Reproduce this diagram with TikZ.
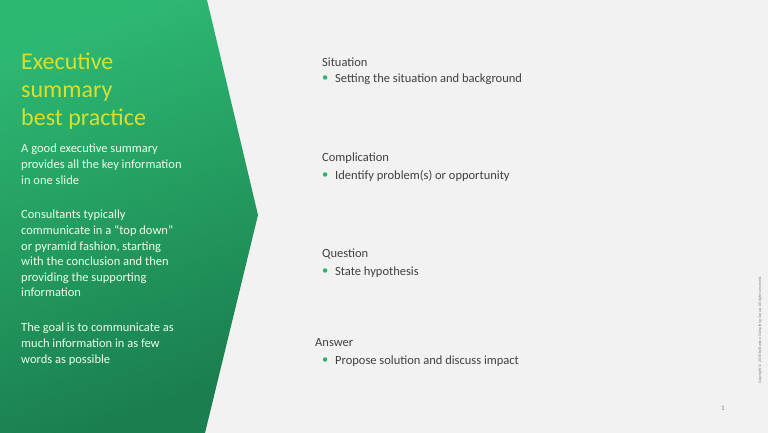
\documentclass[tikz,border=0pt]{standalone}
\usepackage{fontspec}
\setmainfont{Carlito}
\definecolor{bg}{HTML}{F2F2F2}
\definecolor{gtop}{HTML}{2DB872}
\definecolor{gbot}{HTML}{1A7E4E}
\definecolor{ttl}{HTML}{D5E030}
\definecolor{txt}{HTML}{404040}
\definecolor{bul}{HTML}{2BB070}
\begin{document}
\begin{tikzpicture}[x=1pt,y=-1pt,
  ttlstyle/.style={anchor=base west,inner sep=0,text=ttl,font=\fontsize{24}{28}\selectfont,align=left},
  body/.style={anchor=north west,inner sep=0,text=white!92!green,font=\fontsize{12.5}{15.6}\selectfont,align=left},
  head/.style={anchor=west,inner sep=0,text=txt,font=\fontsize{12.5}{15}\selectfont},
  item/.style={anchor=west,inner sep=0,text=txt,font=\fontsize{12.5}{15}\selectfont},
  dot/.style={anchor=west,inner sep=0,text=bul,font=\fontsize{12.5}{15}\selectfont}]
\fill[bg] (0,0) rectangle (768,433);
\shade[top color=gtop,bottom color=gbot,shading angle=20] (0,0) -- (207,0) -- (258,215) -- (205,433) -- (0,433) -- cycle;
\node[ttlstyle] (t1) at (21,70) {Executive};
\node[ttlstyle] (t2) at (21,98) {summary};
\node[ttlstyle] (t3) at (21,126) {best practice};
\node[body] (p1) at (21,144) {A good executive summary\\provides all the key information\\in one slide};
\node[body] (p2) at (21,210) {Consultants typically\\communicate in a “top down”\\or pyramid fashion, starting\\with the conclusion and then\\providing the supporting\\information};
\node[body] (p3) at (21,323) {The goal is to communicate as\\much information in as few\\words as possible};
\node[head] (h1) at (322,62) {Situation};
\node[dot] (d1) at (322,79) {•}; \node[item] (i1) at (335,79) {Setting the situation and background};
\node[head] (h2) at (322,158) {Complication};
\node[dot] (d2) at (322,176) {•}; \node[item] (i2) at (335,176) {Identify problem(s) or opportunity};
\node[head] (h3) at (322,254) {Question};
\node[dot] (d3) at (322,272) {•}; \node[item] (i3) at (335,272) {State hypothesis};
\node[head] (h4) at (315,343) {Answer};
\node[dot] (d4) at (322,361) {•}; \node[item] (i4) at (335,361) {Propose solution and discuss impact};
\node[inner sep=0,text=gray,font=\fontsize{7}{8}\selectfont] (pg) at (723,408) {1};
\node[inner sep=0,text=gray,rotate=90,font=\fontsize{4}{5}\selectfont] (cp) at (760,330) {Copyright © 2010 by Boston Consulting Group. All rights reserved.};
\end{tikzpicture}
\end{document}
